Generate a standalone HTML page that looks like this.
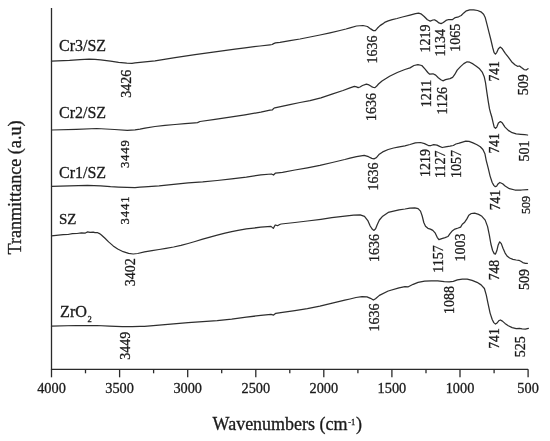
<!DOCTYPE html><html><head><meta charset="utf-8"><title>FTIR spectra</title>
<style>html,body{margin:0;padding:0;background:#fff}svg{display:block}text{stroke:#1a1a1a;stroke-width:0.3px;font-family:"Liberation Serif","Times New Roman",serif;fill:#1a1a1a}</style></head><body>
<svg width="550" height="441" viewBox="0 0 550 441">
<rect width="550" height="441" fill="#fff"/>
<g stroke="#2a2a2a" stroke-width="1.3" fill="none" stroke-linecap="butt">
<path d="M51.5,8 V369.3 H528.1"/>
<path d="M51.5,369.3 v8"/>
<path d="M85.5,369.3 v4"/>
<path d="M119.6,369.3 v8"/>
<path d="M153.6,369.3 v4"/>
<path d="M187.7,369.3 v8"/>
<path d="M221.7,369.3 v4"/>
<path d="M255.8,369.3 v8"/>
<path d="M289.8,369.3 v4"/>
<path d="M323.8,369.3 v8"/>
<path d="M357.9,369.3 v4"/>
<path d="M391.9,369.3 v8"/>
<path d="M426.0,369.3 v4"/>
<path d="M460.0,369.3 v8"/>
<path d="M494.1,369.3 v4"/>
<path d="M528.1,369.3 v8"/>
</g>
<g stroke="#2e2e2e" stroke-width="1.25" fill="none" stroke-linejoin="round" stroke-linecap="round">
<path d="M51.5,61.1 L69.5,60.3 L80.0,59.6 L89.2,59.1 L95.0,59.3 L100.6,59.9 L110.5,61.2 L118.6,62.3 L126.8,63.2 L132.0,63.3 L135.0,62.9 L140.0,62.4 L145.0,61.9 L155.0,60.8 L175.0,57.7 L195.0,54.7 L215.0,51.9 L235.0,49.1 L245.0,47.8 L260.0,46.0 L270.0,44.8 L272.2,44.5 L273.6,43.6 L275.5,42.9 L280.0,42.3 L290.0,40.7 L300.0,39.0 L310.0,37.0 L320.0,35.0 L330.0,32.8 L340.0,30.5 L346.0,29.0 L350.0,27.9 L356.5,26.0 L363.0,25.5 L367.4,26.5 L370.7,28.9 L373.4,30.6 L375.3,30.6 L377.3,28.3 L380.0,25.6 L382.7,23.9 L385.2,22.1 L388.2,20.9 L392.2,19.7 L397.0,18.5 L402.4,17.0 L410.0,15.1 L415.5,13.6 L418.6,13.2 L420.9,13.8 L424.2,16.5 L427.4,19.8 L430.2,21.1 L432.9,20.0 L434.5,19.8 L436.7,21.1 L438.9,22.9 L441.1,23.6 L443.3,22.5 L446.0,20.4 L448.7,19.5 L452.6,19.5 L455.3,17.6 L458.6,16.8 L461.2,15.5 L463.8,12.9 L466.4,10.8 L469.7,9.9 L473.7,9.9 L477.6,10.5 L480.9,11.8 L483.6,14.2 L485.3,17.8 L486.8,23.7 L488.8,31.6 L490.8,39.5 L492.8,48.0 L494.1,52.6 L495.4,54.2 L496.7,52.6 L498.4,48.7 L500.3,47.1 L502.0,48.4 L505.3,53.3 L508.3,57.1 L511.6,61.7 L514.9,64.7 L517.5,66.3 L519.5,66.0 L521.4,67.6 L524.1,69.6 L526.1,70.0 L528.0,68.7"/>
<path d="M51.5,130.0 L76.4,129.3 L96.7,128.5 L114.5,129.5 L127.3,130.3 L135.0,129.9 L140.0,129.1 L145.0,128.1 L155.0,126.5 L165.0,125.4 L175.0,124.5 L185.0,123.6 L195.0,122.8 L197.5,122.6 L200.0,121.5 L215.0,119.3 L235.0,116.4 L245.0,114.8 L260.8,112.2 L270.0,110.2 L272.4,109.8 L273.6,108.5 L274.8,107.8 L289.9,104.6 L300.0,102.5 L310.0,100.6 L320.9,97.8 L332.0,94.1 L343.0,90.5 L350.0,87.8 L354.4,86.3 L356.5,86.9 L358.2,87.6 L360.0,87.0 L362.5,85.5 L366.4,84.1 L369.0,84.9 L371.5,86.6 L373.5,87.5 L375.0,87.6 L376.5,86.3 L378.5,84.0 L382.0,81.0 L389.6,76.3 L397.3,72.5 L404.9,69.5 L410.0,67.9 L414.0,65.5 L417.9,64.6 L421.8,65.5 L425.1,69.2 L427.8,72.5 L429.7,74.2 L433.0,73.8 L435.7,75.1 L438.3,77.8 L440.9,79.7 L442.9,80.8 L445.5,79.7 L450.0,78.6 L452.6,77.4 L454.6,74.7 L457.2,70.1 L460.5,66.6 L463.8,63.6 L467.1,61.8 L469.7,62.2 L473.0,63.9 L476.3,66.2 L479.6,68.8 L482.2,72.1 L484.2,76.7 L485.5,82.6 L486.8,91.8 L488.2,101.1 L489.5,108.9 L490.6,113.0 L491.8,117.0 L493.2,123.1 L494.2,127.1 L495.5,128.4 L496.8,127.1 L498.4,123.1 L500.4,121.6 L502.4,123.1 L505.0,127.1 L508.3,130.4 L512.2,132.7 L516.2,133.9 L520.8,134.3 L524.7,134.7 L527.6,135.0"/>
<path d="M51.5,186.3 L69.5,185.8 L87.5,185.4 L100.6,185.9 L110.5,186.7 L118.6,187.1 L126.8,187.4 L135.0,187.6 L140.0,187.2 L144.5,186.9 L159.1,185.8 L173.6,184.3 L188.1,182.9 L202.7,181.9 L217.2,180.5 L231.7,178.8 L246.3,177.1 L260.8,174.8 L271.5,174.0 L273.5,175.0 L275.3,173.2 L278.0,172.9 L282.5,172.4 L294.9,170.0 L307.4,167.8 L319.9,165.4 L332.3,162.5 L344.8,159.5 L350.0,158.1 L356.5,156.6 L364.2,155.4 L368.5,156.7 L371.8,158.4 L374.0,158.9 L376.2,157.8 L378.9,154.6 L382.7,151.9 L388.2,149.5 L393.6,148.0 L398.0,147.2 L404.9,145.8 L410.0,144.5 L415.3,142.9 L420.5,142.5 L424.5,143.6 L428.4,145.5 L431.0,145.5 L433.7,144.6 L437.0,145.1 L439.6,146.4 L442.2,147.5 L445.5,146.8 L450.0,146.2 L453.3,145.5 L455.9,144.0 L459.2,143.2 L462.5,142.1 L465.8,141.2 L469.1,141.4 L473.0,142.9 L477.0,144.7 L480.3,146.8 L482.9,149.5 L484.9,153.7 L486.2,160.3 L488.2,168.2 L490.1,176.1 L492.1,182.2 L493.8,185.4 L495.3,186.7 L496.6,186.2 L498.0,183.9 L499.8,182.5 L502.6,183.7 L505.1,186.0 L509.4,188.7 L514.9,190.0 L521.4,190.0 L527.7,189.6"/>
<path d="M51.5,235.8 L63.2,234.7 L68.0,234.5 L72.3,233.7 L77.0,233.5 L81.4,232.9 L85.0,233.2 L86.3,232.5 L87.7,231.9 L90.0,232.3 L93.2,232.2 L95.0,232.6 L97.7,232.7 L99.5,233.6 L101.4,235.0 L105.0,238.3 L108.6,241.9 L113.2,245.9 L117.7,249.0 L123.2,251.7 L128.6,253.4 L133.2,254.0 L137.7,253.5 L144.5,251.9 L152.0,250.7 L159.1,249.5 L166.0,248.3 L173.6,247.0 L181.0,245.4 L188.1,243.5 L195.0,241.5 L202.7,239.2 L210.0,237.1 L217.2,235.1 L225.0,233.2 L231.7,231.6 L238.0,230.4 L246.3,228.9 L260.8,227.2 L271.0,226.4 L273.3,228.4 L275.2,225.0 L277.5,225.7 L279.7,224.5 L281.2,224.0 L294.9,222.5 L307.4,221.0 L320.9,219.3 L331.8,217.7 L342.7,216.4 L353.6,215.2 L360.2,214.9 L364.5,216.4 L367.8,220.6 L370.2,226.0 L372.4,229.3 L374.0,230.4 L375.6,228.7 L377.3,224.4 L379.4,220.0 L382.7,216.2 L388.2,212.4 L399.0,209.8 L405.0,209.0 L409.9,208.1 L414.8,207.8 L418.1,208.6 L420.5,211.1 L422.2,216.0 L423.8,222.5 L425.5,226.2 L427.9,228.3 L430.4,229.1 L432.8,230.4 L435.3,233.2 L437.2,237.3 L438.9,239.7 L441.8,238.6 L445.1,237.6 L447.9,236.5 L450.0,233.7 L452.5,230.7 L454.9,229.1 L458.2,228.0 L460.6,227.1 L462.3,224.2 L464.7,222.2 L466.9,218.9 L468.8,215.2 L471.3,213.5 L474.6,213.2 L478.6,214.4 L481.9,216.3 L485.2,220.1 L487.6,226.6 L489.3,234.8 L490.9,244.0 L492.6,250.5 L494.2,253.6 L495.5,254.1 L496.8,250.8 L498.2,244.9 L499.7,241.8 L501.3,243.6 L503.0,248.2 L505.0,252.8 L507.0,256.0 L509.6,258.0 L512.9,259.3 L516.2,260.0 L518.8,260.3 L520.8,261.3 L522.8,262.6 L525.4,263.3 L527.4,263.3"/>
<path d="M51.5,326.2 L76.4,325.5 L96.7,325.5 L109.4,326.2 L122.2,326.7 L132.3,326.6 L140.0,326.4 L144.5,326.3 L159.1,325.2 L173.6,323.8 L188.1,322.6 L202.7,321.7 L217.2,320.6 L231.7,319.1 L246.3,317.2 L260.8,315.4 L271.0,314.3 L273.6,315.1 L275.8,313.3 L282.5,312.3 L294.9,310.6 L307.4,308.7 L319.9,306.1 L332.3,303.2 L344.8,300.2 L350.0,299.0 L356.0,297.5 L362.0,296.6 L367.0,296.9 L370.5,298.3 L373.4,300.0 L375.5,298.8 L379.4,295.4 L388.2,291.0 L399.0,287.9 L405.0,286.6 L408.3,286.8 L413.2,284.3 L418.1,282.4 L424.6,281.1 L431.2,280.8 L437.7,280.8 L444.3,281.6 L449.2,281.9 L453.3,281.3 L457.4,279.9 L462.3,279.1 L467.2,279.1 L472.1,280.4 L477.0,282.3 L481.1,284.9 L484.4,288.5 L486.3,295.1 L488.0,303.3 L490.1,313.1 L492.2,319.5 L493.8,322.6 L495.5,324.1 L497.1,323.0 L498.7,320.8 L500.4,320.0 L502.4,321.1 L505.0,323.4 L508.3,325.7 L512.2,327.6 L516.2,328.6 L519.5,328.3 L522.1,328.9 L525.4,329.2 L528.4,328.3"/>
</g>
<text x="51.5" y="393.2" font-size="14.3" text-anchor="middle">4000</text>
<text x="119.6" y="393.2" font-size="14.3" text-anchor="middle">3500</text>
<text x="187.7" y="393.2" font-size="14.3" text-anchor="middle">3000</text>
<text x="255.8" y="393.2" font-size="14.3" text-anchor="middle">2500</text>
<text x="323.8" y="393.2" font-size="14.3" text-anchor="middle">2000</text>
<text x="391.9" y="393.2" font-size="14.3" text-anchor="middle">1500</text>
<text x="460.0" y="393.2" font-size="14.3" text-anchor="middle">1000</text>
<text x="528.1" y="393.2" font-size="14.3" text-anchor="middle">500</text>
<text x="212.6" y="429.8" font-size="18">Wavenumbers (cm<tspan font-size="8.5" dy="-4.8" dx="0.6">-1</tspan><tspan dy="4.8" dx="0.8">)</tspan></text>
<text transform="translate(21,187.5) rotate(-90)" font-size="18.1" text-anchor="middle">Tranmittance (a.u)</text>
<text x="59" y="51.2" font-size="16">Cr3/SZ</text>
<text x="59" y="118" font-size="16">Cr2/SZ</text>
<text x="59" y="178" font-size="16">Cr1/SZ</text>
<text x="59" y="223.8" font-size="15">SZ</text>
<text x="60" y="316.7" font-size="16.2">ZrO<tspan font-size="8.5" dy="5.3" dx="0.6">2</tspan></text>
<text transform="translate(130.5,83.7) rotate(-90)" font-size="14" letter-spacing="0" text-anchor="middle">3426</text>
<text transform="translate(128.6,153.7) rotate(-90)" font-size="12.6" letter-spacing="0.9" text-anchor="middle">3449</text>
<text transform="translate(128.6,210) rotate(-90)" font-size="12.6" letter-spacing="0.9" text-anchor="middle">3441</text>
<text transform="translate(135.1,272.2) rotate(-90)" font-size="14" letter-spacing="0" text-anchor="middle">3402</text>
<text transform="translate(130.4,345.8) rotate(-90)" font-size="14" letter-spacing="0" text-anchor="middle">3449</text>
<text transform="translate(377,49.5) rotate(-90)" font-size="14" letter-spacing="0" text-anchor="middle">1636</text>
<text transform="translate(376.1,107) rotate(-90)" font-size="14" letter-spacing="0" text-anchor="middle">1636</text>
<text transform="translate(378.1,176.6) rotate(-90)" font-size="14" letter-spacing="0" text-anchor="middle">1636</text>
<text transform="translate(378.6,248) rotate(-90)" font-size="14" letter-spacing="0" text-anchor="middle">1636</text>
<text transform="translate(379,317.4) rotate(-90)" font-size="14" letter-spacing="0" text-anchor="middle">1636</text>
<text transform="translate(429.9,38.6) rotate(-90)" font-size="14" letter-spacing="0" text-anchor="middle">1219</text>
<text transform="translate(444.5,42.7) rotate(-90)" font-size="14" letter-spacing="0" text-anchor="middle">1134</text>
<text transform="translate(460,37.8) rotate(-90)" font-size="14" letter-spacing="0" text-anchor="middle">1065</text>
<text transform="translate(431.4,93.5) rotate(-90)" font-size="14" letter-spacing="0" text-anchor="middle">1211</text>
<text transform="translate(446.8,100.7) rotate(-90)" font-size="14" letter-spacing="0" text-anchor="middle">1126</text>
<text transform="translate(429.7,162.9) rotate(-90)" font-size="14" letter-spacing="0" text-anchor="middle">1219</text>
<text transform="translate(445,164.2) rotate(-90)" font-size="14" letter-spacing="0" text-anchor="middle">1127</text>
<text transform="translate(460.5,164) rotate(-90)" font-size="14" letter-spacing="0" text-anchor="middle">1057</text>
<text transform="translate(443.3,259.1) rotate(-90)" font-size="14" letter-spacing="0" text-anchor="middle">1157</text>
<text transform="translate(465.2,247.6) rotate(-90)" font-size="14" letter-spacing="0" text-anchor="middle">1003</text>
<text transform="translate(453.7,300.1) rotate(-90)" font-size="14" letter-spacing="0" text-anchor="middle">1088</text>
<text transform="translate(499.4,71.3) rotate(-90)" font-size="13.6" letter-spacing="0" text-anchor="middle">741</text>
<text transform="translate(499.4,143.3) rotate(-90)" font-size="13.6" letter-spacing="0" text-anchor="middle">741</text>
<text transform="translate(499.8,200.1) rotate(-90)" font-size="13.6" letter-spacing="0" text-anchor="middle">741</text>
<text transform="translate(499.4,270.1) rotate(-90)" font-size="13.6" letter-spacing="0" text-anchor="middle">748</text>
<text transform="translate(499.4,338.5) rotate(-90)" font-size="13.6" letter-spacing="0" text-anchor="middle">741</text>
<text transform="translate(527.7,84.8) rotate(-90)" font-size="14" letter-spacing="0" text-anchor="middle">509</text>
<text transform="translate(529.1,151.1) rotate(-90)" font-size="14" letter-spacing="0" text-anchor="middle">501</text>
<text transform="translate(530.2,204.9) rotate(-90)" font-size="12" letter-spacing="0" text-anchor="middle">509</text>
<text transform="translate(529.4,279.4) rotate(-90)" font-size="14" letter-spacing="0" text-anchor="middle">509</text>
<text transform="translate(525.1,346.7) rotate(-90)" font-size="14" letter-spacing="0" text-anchor="middle">525</text>
</svg></body></html>
